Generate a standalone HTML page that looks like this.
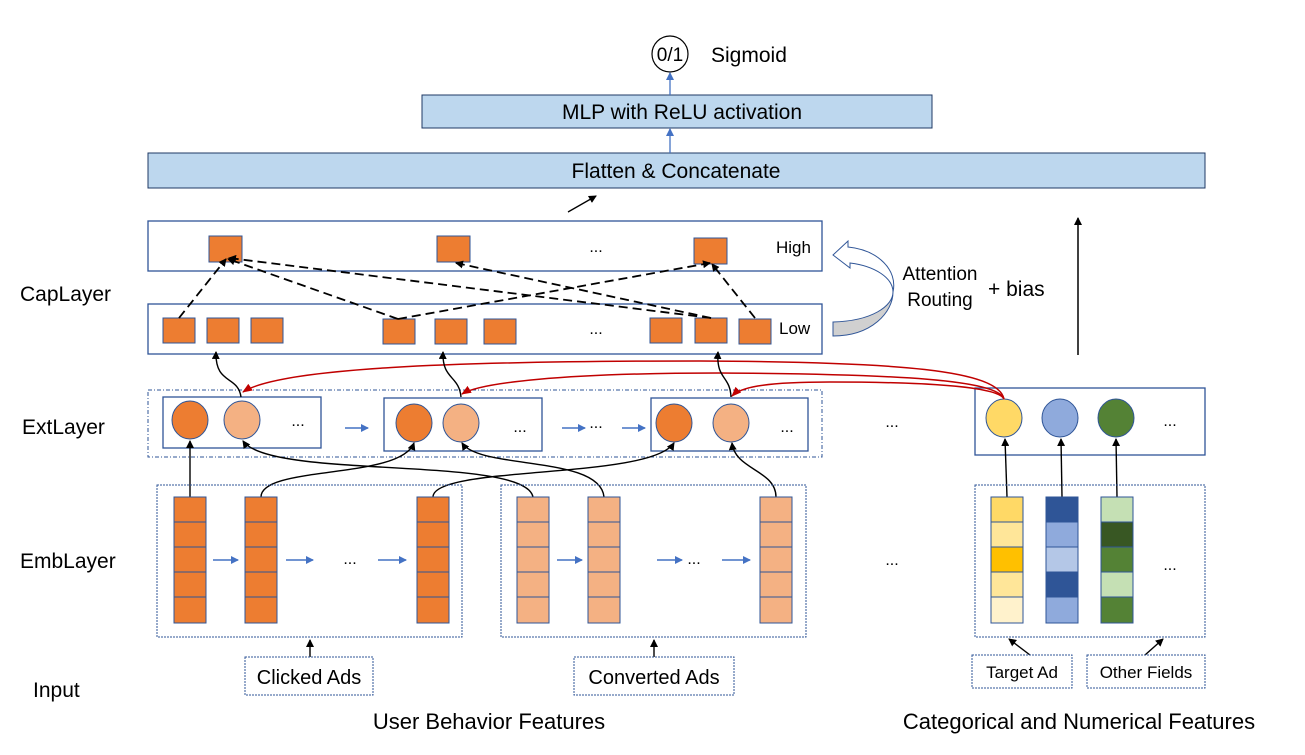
<!DOCTYPE html>
<html><head><meta charset="utf-8"><style>
body{margin:0;background:#fff}
svg{display:block;font-family:"Liberation Sans",sans-serif}
</style></head><body>
<svg width="1305" height="755" viewBox="0 0 1305 755" xmlns="http://www.w3.org/2000/svg">
<defs>
<marker id="ab" markerWidth="8" markerHeight="8" refX="7" refY="4" orient="auto" markerUnits="userSpaceOnUse"><path d="M0,0 L8,4 L0,8 Z" fill="#000"/></marker>
<marker id="abl" markerWidth="8" markerHeight="8" refX="7" refY="4" orient="auto" markerUnits="userSpaceOnUse"><path d="M0,0 L8,4 L0,8 Z" fill="#4472c4"/></marker>
<marker id="ar" markerWidth="10" markerHeight="8" refX="9" refY="4" orient="auto" markerUnits="userSpaceOnUse"><path d="M0,0 L10,4 L0,8 Z" fill="#c00000"/></marker>
</defs>
<circle cx="670" cy="54" r="18" fill="#fff" stroke="#000" stroke-width="1.2"/>
<text x="670" y="61" font-size="19" text-anchor="middle">0/1</text>
<text x="711" y="62" font-size="21">Sigmoid</text>
<rect x="422" y="95" width="510" height="33" fill="#bdd7ee" stroke="#1f3864" stroke-width="1"/>
<text x="682" y="119" font-size="21" text-anchor="middle">MLP with ReLU activation</text>
<rect x="148" y="153" width="1057" height="35" fill="#bdd7ee" stroke="#1f3864" stroke-width="1"/>
<text x="676" y="178" font-size="21" text-anchor="middle">Flatten &amp; Concatenate</text>
<line x1="670" y1="95" x2="670" y2="73" stroke="#4472c4" stroke-width="1.3" marker-end="url(#abl)"/>
<line x1="670" y1="153" x2="670" y2="129" stroke="#4472c4" stroke-width="1.3" marker-end="url(#abl)"/>
<line x1="568" y1="212" x2="596" y2="196" stroke="#000" stroke-width="1.3" marker-end="url(#ab)"/>
<line x1="1078" y1="355" x2="1078" y2="218" stroke="#000" stroke-width="1.5" marker-end="url(#ab)"/>

<g font-size="21">
<text x="20" y="301">CapLayer</text>
<text x="22" y="434">ExtLayer</text>
<text x="20" y="568">EmbLayer</text>
<text x="33" y="697">Input</text>
<text x="489" y="729" text-anchor="middle" font-size="22">User Behavior Features</text>
<text x="1079" y="729" text-anchor="middle" font-size="22">Categorical and Numerical Features</text>
</g>

<rect x="148" y="221" width="674" height="50" fill="#fff" stroke="#2f5597" stroke-width="1.3"/>
<rect x="148" y="304" width="674" height="50" fill="#fff" stroke="#2f5597" stroke-width="1.3"/>
<g fill="#ed7d31" stroke="#2f5597" stroke-width="1">
<rect x="209" y="236" width="33" height="26"/><rect x="437" y="236" width="33" height="26"/><rect x="694" y="238" width="33" height="26"/>
<rect x="163" y="318" width="32" height="25"/><rect x="207" y="318" width="32" height="25"/><rect x="251" y="318" width="32" height="25"/>
<rect x="383" y="319" width="32" height="25"/><rect x="435" y="319" width="32" height="25"/><rect x="484" y="319" width="32" height="25"/>
<rect x="650" y="318" width="32" height="25"/><rect x="695" y="318" width="32" height="25"/><rect x="739" y="319" width="32" height="25"/>
</g>
<text x="596" y="252" font-size="16" text-anchor="middle">...</text>
<text x="596" y="334" font-size="16" text-anchor="middle">...</text>
<text x="776" y="253" font-size="17">High</text>
<text x="779" y="334" font-size="17">Low</text>
<g stroke="#000" stroke-width="1.8" stroke-dasharray="9,5" fill="none" marker-end="url(#ab)">
<line x1="179" y1="318" x2="226" y2="259"/>
<line x1="398" y1="319" x2="228" y2="259"/>
<line x1="398" y1="319" x2="710" y2="263"/>
<line x1="711" y1="318" x2="229" y2="258"/>
<line x1="711" y1="318" x2="456" y2="263"/>
<line x1="755" y1="318" x2="712" y2="264"/>
</g>

<path d="M833,322 C872,321 893,306 893,292 C893,312 872,336 833,336 Z" fill="#d0d0d0" stroke="#2f5597" stroke-width="1"/>
<path d="M893,292 C893,278 875,266 850,263 L850,268 L833,255 L848,241 L848,247 C878,250 898,270 893,292 Z" fill="#fff" stroke="#2f5597" stroke-width="1"/>
<text x="940" y="280" font-size="19" text-anchor="middle">Attention</text>
<text x="940" y="306" font-size="19" text-anchor="middle">Routing</text>
<text x="988" y="296" font-size="21">+  bias</text>

<rect x="148" y="390" width="674" height="67" fill="none" stroke="#2f5597" stroke-width="1" stroke-dasharray="4,2,1,2"/>
<g fill="#fff" stroke="#2f5597" stroke-width="1.3">
<rect x="163" y="397" width="158" height="51"/><rect x="384" y="398" width="158" height="53"/><rect x="651" y="398" width="157" height="53"/>
<rect x="975" y="388" width="230" height="67"/>
</g>
<g stroke="#2f5597" stroke-width="1">
<ellipse cx="190" cy="420" rx="18" ry="19" fill="#ed7d31"/><ellipse cx="242" cy="420" rx="18" ry="19" fill="#f4b183"/>
<ellipse cx="414" cy="423" rx="18" ry="19" fill="#ed7d31"/><ellipse cx="461" cy="423" rx="18" ry="19" fill="#f4b183"/>
<ellipse cx="674" cy="423" rx="18" ry="19" fill="#ed7d31"/><ellipse cx="731" cy="423" rx="18" ry="19" fill="#f4b183"/>
<ellipse cx="1004" cy="418" rx="18" ry="19" fill="#ffd966"/><ellipse cx="1060" cy="418" rx="18" ry="19" fill="#8faadc"/><ellipse cx="1116" cy="418" rx="18" ry="19" fill="#548235"/>
</g>
<g font-size="16" text-anchor="middle">
<text x="298" y="426">...</text><text x="520" y="432">...</text><text x="596" y="428">...</text><text x="787" y="432">...</text>
<text x="892" y="427">...</text><text x="1170" y="426">...</text><text x="892" y="565">...</text><text x="1170" y="570">...</text>
<text x="350" y="564">...</text><text x="694" y="564">...</text>
</g>
<g stroke="#4472c4" stroke-width="1.5" marker-end="url(#abl)">
<line x1="345" y1="428" x2="368" y2="428"/><line x1="562" y1="428" x2="585" y2="428"/><line x1="622" y1="428" x2="645" y2="428"/>
<line x1="213" y1="560" x2="238" y2="560"/><line x1="286" y1="560" x2="313" y2="560"/><line x1="378" y1="560" x2="406" y2="560"/>
<line x1="557" y1="560" x2="582" y2="560"/><line x1="657" y1="560" x2="682" y2="560"/><line x1="722" y1="560" x2="750" y2="560"/>
</g>

<g stroke="#c00000" stroke-width="1.5" fill="none" marker-end="url(#ar)">
<path d="M1004,399 C998,370 900,362 700,361 C450,361 280,368 243,392"/>
<path d="M1004,399 C998,380 900,374 720,373 C560,373 480,383 462,394"/>
<path d="M1004,399 C998,386 920,382 830,382 C760,382 740,388 732,396"/>
</g>
<g stroke="#000" stroke-width="1.4" fill="none" marker-end="url(#ab)">
<path d="M241,397 C238,375 215,385 216,352"/>
<path d="M461,397 C459,375 442,380 443,352"/>
<path d="M731,397 C730,375 716,380 718,352"/>
<line x1="190" y1="497" x2="190" y2="441"/>
<path d="M261,497 C261,465 400,480 414,443"/>
<path d="M533,497 C525,455 270,480 243,441"/>
<path d="M433,497 C433,465 650,480 674,443"/>
<path d="M604,497 C600,455 480,470 462,443"/>
<path d="M776,497 C776,470 735,470 732,443"/>
<line x1="1007" y1="497" x2="1005" y2="439"/>
<line x1="1062" y1="497" x2="1061" y2="439"/>
<line x1="1117" y1="497" x2="1116" y2="439"/>
<line x1="310" y1="657" x2="310" y2="640"/>
<line x1="654" y1="657" x2="654" y2="640"/>
<line x1="1030" y1="655" x2="1009" y2="639"/>
<line x1="1145" y1="655" x2="1163" y2="639"/>
</g>

<g fill="none" stroke="#2f5597" stroke-width="1" stroke-dasharray="2,1">
<rect x="157" y="485" width="305" height="152"/><rect x="501" y="485" width="305" height="152"/><rect x="975" y="485" width="230" height="152"/>
</g>
<g stroke="#2f5597" stroke-width="1">
<g fill="#ed7d31">
<rect x="174" y="497" width="32" height="25"/><rect x="174" y="522" width="32" height="25"/><rect x="174" y="547" width="32" height="25"/><rect x="174" y="572" width="32" height="25"/><rect x="174" y="597" width="32" height="26"/>
<rect x="245" y="497" width="32" height="25"/><rect x="245" y="522" width="32" height="25"/><rect x="245" y="547" width="32" height="25"/><rect x="245" y="572" width="32" height="25"/><rect x="245" y="597" width="32" height="26"/>
<rect x="417" y="497" width="32" height="25"/><rect x="417" y="522" width="32" height="25"/><rect x="417" y="547" width="32" height="25"/><rect x="417" y="572" width="32" height="25"/><rect x="417" y="597" width="32" height="26"/>
</g>
<g fill="#f4b183">
<rect x="517" y="497" width="32" height="25"/><rect x="517" y="522" width="32" height="25"/><rect x="517" y="547" width="32" height="25"/><rect x="517" y="572" width="32" height="25"/><rect x="517" y="597" width="32" height="26"/>
<rect x="588" y="497" width="32" height="25"/><rect x="588" y="522" width="32" height="25"/><rect x="588" y="547" width="32" height="25"/><rect x="588" y="572" width="32" height="25"/><rect x="588" y="597" width="32" height="26"/>
<rect x="760" y="497" width="32" height="25"/><rect x="760" y="522" width="32" height="25"/><rect x="760" y="547" width="32" height="25"/><rect x="760" y="572" width="32" height="25"/><rect x="760" y="597" width="32" height="26"/>
</g>
<rect x="991" y="497" width="32" height="25" fill="#ffd966"/><rect x="991" y="522" width="32" height="25" fill="#ffe699"/><rect x="991" y="547" width="32" height="25" fill="#ffc000"/><rect x="991" y="572" width="32" height="25" fill="#ffe699"/><rect x="991" y="597" width="32" height="26" fill="#fff2cc"/>
<rect x="1046" y="497" width="32" height="25" fill="#2f5597"/><rect x="1046" y="522" width="32" height="25" fill="#8faadc"/><rect x="1046" y="547" width="32" height="25" fill="#b4c7e7"/><rect x="1046" y="572" width="32" height="25" fill="#2f5597"/><rect x="1046" y="597" width="32" height="26" fill="#8faadc"/>
<rect x="1101" y="497" width="32" height="25" fill="#c5e0b4"/><rect x="1101" y="522" width="32" height="25" fill="#385723"/><rect x="1101" y="547" width="32" height="25" fill="#548235"/><rect x="1101" y="572" width="32" height="25" fill="#c5e0b4"/><rect x="1101" y="597" width="32" height="26" fill="#548235"/>
</g>

<g fill="#fff" stroke="#2f5597" stroke-width="1" stroke-dasharray="2,1">
<rect x="245" y="657" width="128" height="38"/><rect x="574" y="657" width="160" height="38"/>
<rect x="972" y="655" width="100" height="33"/><rect x="1087" y="655" width="118" height="33"/>
</g>
<text x="309" y="684" font-size="20" text-anchor="middle">Clicked Ads</text>
<text x="654" y="684" font-size="20" text-anchor="middle">Converted Ads</text>
<text x="1022" y="678" font-size="17" text-anchor="middle">Target Ad</text>
<text x="1146" y="678" font-size="17" text-anchor="middle">Other Fields</text>
</svg>
</body></html>
